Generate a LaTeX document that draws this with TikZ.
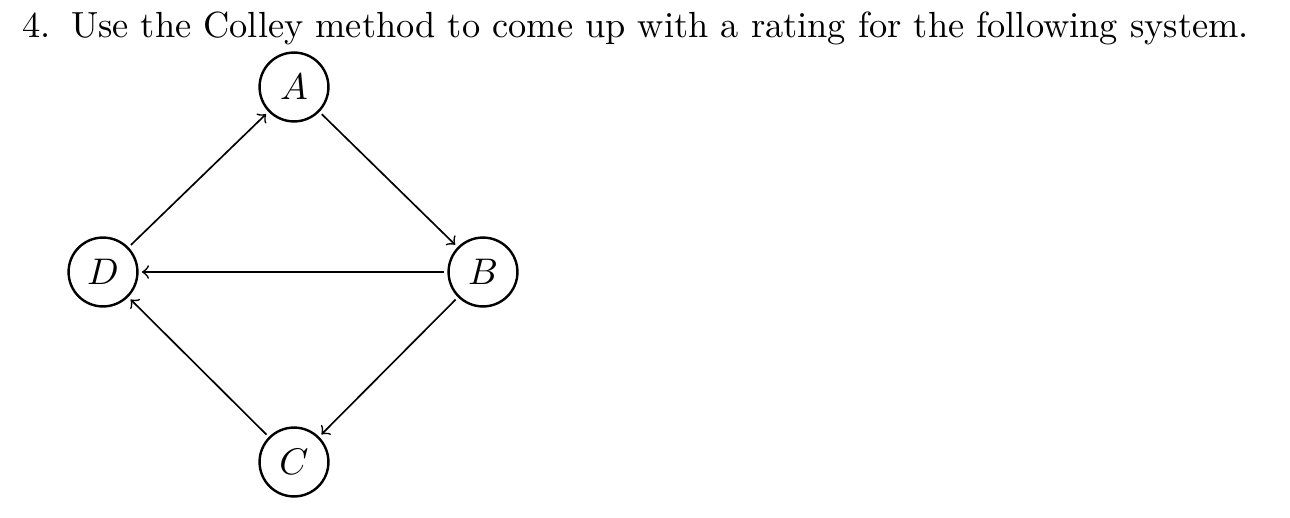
\documentclass[tikz,border=0pt]{standalone}
\begin{document}
\begin{tikzpicture}[x=0.27pt,y=-0.27pt,
  vert/.style={circle,draw,line width=0.65pt,minimum size=18.6pt,inner sep=0pt,outer sep=1.2pt},
  edge/.style={->,line width=0.45pt}]
\useasboundingbox (0,0) rectangle (1290,517);
\node[anchor=base west,inner sep=0pt] (title) at (22,38) {\fontsize{9.82pt}{12pt}\selectfont 4.\hspace{5.4pt}Use the Colley method to come up with a rating for the following system.};
\node[vert] (A) at (294,87) {$A$};
\node[vert] (B) at (483,272) {$B$};
\node[vert] (C) at (294,462) {$C$};
\node[vert] (D) at (103,272) {$D$};
\draw[edge] (D) -- (A);
\draw[edge] (A) -- (B);
\draw[edge] (B) -- (D);
\draw[edge] (B) -- (C);
\draw[edge] (C) -- (D);
\end{tikzpicture}
\end{document}
